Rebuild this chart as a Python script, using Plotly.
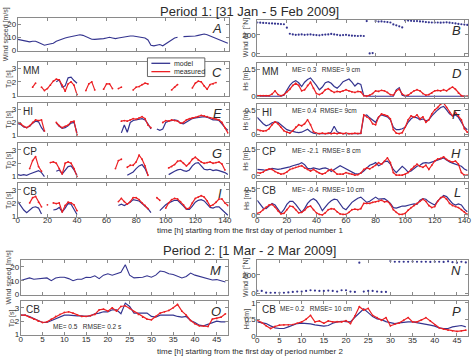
import plotly.graph_objects as go

W, H = 474, 361
N = None

# ---------------- DATA ----------------
t1 = list(range(0, 143, 2))   # period 1, hours
t2 = list(range(0, 48))       # period 2, hours

wind_speed_p1 = [8.4, 8.0, 7.5, 7.0, 6.5, 7.0, 7.0, 6.0, 5.0, 4.0, 4.5, 5.0,
                 5.5, 7.0, 8.0, 9.0, 9.5, 10.0, 10.5, 11.0, 11.5, 12.0, 11.5, 10.5,
                 9.5, 8.5, 8.4, 8.5, 9.0, 9.0, 9.5, 10.0, 9.5, 9.0, 9.5, 10.0,
                 10.0, 10.5, 11.0, 11.0, 10.5, 10.5, 10.0, 9.5, 8.0, 4.0, 3.5, 4.0,
                 4.5, 3.5, 5.0, 6.5, 8.0, 9.5, 10.0, N, 10.5, 10.5, 11.0, 11.0,
                 11.0, 11.5, 12.0, 12.5, 12.0, 11.0, 10.0, 9.0, 8.0, 7.5, 6.5, 5.5]

wind_dir_p1 = [330, 328, 326, 325, 322, 320, 318, 316, 314, 312, 276, 212,
               205, 200, 202, 205, 200, 203, 205, 200, 198, 195, 200, 203,
               205, 210, 205, 200, 195, 198, 200, 195, 192, 190, 188, 190,
               188, 345, 5, 8, 345, 340, 342, 338, 335, 330, 310, 300,
               290, 278, 352, 350, 348, 345, 345, 342, 340, 335, 332, 330,
               330, 330, 328, 330, 332, 328, 325, 320, 315, 312, 308, 305]

tp_mm_model = [N]*13 + [2.0, 2.15, 1.6, 1.7, 2.3, 2.35, 2.1, 1.9] + [N]*51
tp_mm_meas = [N, N, N, N, N, 1.6, 1.9, N, 1.6, 1.35, 1.5, 1.75,
              2.05, 2.2, 2.15, 1.75, 1.3, 1.85, 2.0, 1.75, 1.05, N, N, 1.35,
              1.85, 2.0, 1.4, N, N, 1.45, 1.85, 1.85, 1.5, N, 1.5, 1.6,
              N, N, N, 1.4, 1.6, 1.65, 1.8, 1.9, 1.85, N, N, N,
              N, N, N, N, 1.4, 1.6, 1.8, N, N, N, N, 1.55,
              1.9, 2.05, 2.0, 1.7, 1.45, 1.8, 1.85, 1.95, N, N, N, N]

hs_mm_model = [0.0, 0.0, 0.0, 0.0, 0.0, 0.0, 0.0, 0.0, 0.0, 0.02, 0.12, 0.2,
               0.26, 0.29, 0.25, 0.18, 0.26, 0.31, 0.34, 0.28, 0.2, 0.12, 0.17, 0.25,
               0.27, 0.24, 0.18, 0.15, 0.2, 0.27, 0.3, 0.32, 0.26, 0.19, 0.24, 0.22,
               0.01, 0.0, 0.0, 0.0, 0.0, 0.0, 0.0, 0.0, 0.0, 0.0, 0.0, 0.12,
               0.16, 0.02, 0.0, 0.0, 0.0, 0.0, 0.0, 0.0, 0.0, 0.0, 0.0, 0.0,
               0.0, 0.0, 0.0, 0.0, 0.0, 0.0, 0.0, 0.0, 0.0, 0.0, 0.0, 0.0]
hs_mm_meas = [0.01, 0.01, 0.01, 0.01, 0.01, 0.04, 0.1, 0.03, 0.01, 0.03, 0.08, 0.13,
              0.2, 0.24, 0.2, 0.1, 0.12, 0.2, 0.26, 0.15, 0.05, 0.03, 0.06, 0.12,
              0.14, 0.1, 0.07, 0.09, 0.08, 0.1, 0.12, 0.1, 0.08, 0.07, 0.09, 0.08,
              0.01, 0.0, 0.02, 0.05, 0.1, 0.09, 0.11, 0.1, 0.07, 0.03, 0.02, 0.1,
              0.13, 0.04, 0.01, 0.02, 0.06, 0.1, 0.12, 0.1, 0.05, 0.02, 0.03, 0.06,
              0.1, 0.11, 0.1, 0.12, 0.1, 0.14, 0.17, 0.13, 0.06, 0.01, 0.0, 0.0]

tp_hi_model = [1.9, 1.85, 1.65, 1.6, 1.7, 1.95, 2.1, 2.05, 1.6, 1.3, N, N,
               N, 1.95, 1.7, 1.55, 1.6, 1.75, 1.95, 2.0, 1.2, N, N, N,
               N, N, N, N, N, N, N, N, N, N, N, 1.2,
               1.8, 1.25, 2.0, 2.15, 2.2, 2.25, 2.3, 2.2, 1.9, 1.5, N, 1.5,
               1.4, 1.5, 2.0, 2.1, 2.15, 2.2, 2.15, 1.95, 1.9, 2.05, 2.15, 2.3,
               2.35, 2.4, 2.45, 2.45, 2.4, 2.3, 2.2, 2.2, 2.15, 1.9, 1.6, 1.4]
tp_hi_meas = [2.0, 1.9, 1.7, 1.6, 1.75, 2.0, 2.2, 2.15, 2.2, 1.35, N, N,
              N, 2.0, 1.75, 1.6, 1.7, 1.8, 2.05, 2.1, 1.05, N, N, N,
              N, N, N, N, N, N, N, N, N, N, N, 2.1,
              2.15, 2.1, 2.2, 2.3, 2.25, 2.35, 2.45, 2.3, 1.8, 1.6, N, N,
              N, 2.0, 2.15, 2.1, 2.2, 2.15, 2.1, 1.95, 2.0, 2.2, 2.3, 2.35,
              2.4, 2.45, 2.55, 2.5, 2.45, 2.35, 2.3, 2.25, 2.2, 2.0, 1.6, 1.2]

hs_hi_model = [0.35, 0.28, 0.22, 0.18, 0.2, 0.24, 0.26, 0.25, 0.2, 0.14, 0.1, 0.08,
               0.06, 0.05, 0.04, 0.05, 0.08, 0.11, 0.06, 0.03, 0.02, 0.02, 0.02, 0.02,
               0.02, 0.05, 0.17, 0.06, 0.03, 0.02, 0.02, 0.02, 0.02, 0.02, 0.02, 0.02,
               0.38, 0.4, 0.34, 0.3, 0.25, 0.36, 0.4, 0.38, 0.36, 0.3, 0.15, 0.1,
               0.1, 0.12, 0.15, 0.25, 0.32, 0.36, 0.34, 0.3, 0.32, 0.28, 0.3, 0.38,
               0.45, 0.5, 0.55, 0.57, 0.5, 0.42, 0.38, 0.4, 0.35, 0.25, 0.15, 0.1]
hs_hi_meas = [0.1, 0.08, 0.07, 0.08, 0.12, 0.2, 0.26, 0.22, 0.15, 0.08, 0.05, 0.03,
              0.08, 0.15, 0.2, 0.18, 0.22, 0.3, 0.2, 0.06, 0.03, 0.02, 0.03, 0.02,
              0.03, 0.02, 0.03, 0.02, 0.03, 0.02, 0.03, 0.02, 0.02, 0.03, 0.02, 0.03,
              0.4, 0.36, 0.32, 0.22, 0.2, 0.35, 0.42, 0.4, 0.38, 0.32, 0.1, 0.03,
              0.02, 0.04, 0.15, 0.3, 0.38, 0.35, 0.4, 0.32, 0.36, 0.25, 0.3, 0.42,
              0.5, 0.55, 0.62, 0.64, 0.55, 0.45, 0.38, 0.45, 0.38, 0.3, 0.12, 0.05]

tp_cp_model = [1.15, 1.1, 1.15, 1.1, 1.2, 1.3, 1.4, 1.45, 1.3, 1.0, N, N,
               N, 1.4, 1.5, 1.2, 1.5, 1.75, 1.8, 1.5, 1.1, N, N, N,
               N, N, N, N, N, N, N, N, N, N, N, N,
               N, 1.1, 1.2, 1.35, 1.6, 1.8, 1.9, 1.6, 1.1, N, N, N,
               N, N, N, 1.15, 1.3, 1.4, 1.5, 1.55, 1.45, 1.4, 1.5, 1.8,
               2.0, 2.05, 1.8, 1.55, 1.5, 1.55, 1.45, 1.5, 1.45, 1.4, 1.3, 1.15]
tp_cp_meas = [N, N, N, N, 1.6, 2.2, 2.5, 1.75, 1.4, N, N, 2.05,
              2.1, 2.0, 1.6, 1.2, 2.0, 2.1, 2.0, 1.6, 1.0, N, N, N,
              N, N, N, N, N, N, N, N, N, 1.6, 2.2, 2.3,
              N, 1.7, 1.85, 1.85, 2.1, 2.6, 2.3, 1.8, 1.1, N, N, N,
              N, N, N, 1.65, 1.75, 1.9, 2.15, 2.2, 2.0, 1.8, 2.0, 2.3,
              2.45, 2.25, 2.1, 2.0, 2.05, 2.1, 2.0, 2.05, 2.1, 1.95, 1.5, N]

hs_cp_model = [0.12, 0.12, 0.11, 0.1, 0.12, 0.14, 0.13, 0.12, 0.13, 0.14, 0.15, 0.17,
               0.19, 0.2, 0.22, 0.25, 0.21, 0.14, 0.13, 0.15, 0.14, 0.12, 0.14, 0.15,
               0.13, 0.08, 0.12, 0.16, 0.19, 0.16, 0.13, 0.1, 0.07, 0.04, 0.03, 0.05,
               0.09, 0.15, 0.2, 0.22, 0.25, 0.19, 0.22, 0.27, 0.28, 0.22, 0.12, 0.06,
               0.12, 0.18, 0.13, 0.07, 0.09, 0.14, 0.18, 0.2, 0.24, 0.25, 0.24, 0.26,
               0.28, 0.29, 0.31, 0.34, 0.3, 0.26, 0.24, 0.22, 0.2, 0.18, 0.13, 0.1]
hs_cp_meas = [0.06, 0.05, 0.07, 0.11, 0.13, 0.12, 0.08, 0.05, 0.03, 0.04, 0.07, 0.12,
              0.14, 0.16, 0.18, 0.19, 0.15, 0.12, 0.09, 0.12, 0.08, 0.05, 0.03, 0.05,
              0.1, 0.12, 0.08, 0.03, 0.03, 0.03, 0.06, 0.04, 0.03, 0.01, 0.02, 0.05,
              0.12, 0.15, 0.13, 0.16, 0.2, 0.25, 0.22, 0.28, 0.34, 0.25, 0.06, 0.01,
              0.01, 0.01, 0.03, 0.06, 0.12, 0.18, 0.22, 0.18, 0.16, 0.2, 0.12, 0.2,
              0.28, 0.32, 0.33, 0.36, 0.31, 0.28, 0.26, 0.28, 0.22, 0.06, 0.01, 0.01]

tp_cb_model = [2.1, 1.8, 1.45, 1.25, 1.45, 1.65, 1.7, 1.6, 1.15, N, N, N,
               1.45, 1.5, 1.65, 1.3, 1.6, 1.95, 1.9, 1.55, 1.1, N, N, N,
               N, N, N, N, N, N, N, N, N, N, 1.8, 1.9,
               1.8, 1.9, 2.05, 2.25, 2.2, 2.15, 1.95, 1.75, 1.55, 1.25, N, N,
               1.4, 1.65, 1.85, 2.0, 2.1, 2.2, 2.2, 2.0, 1.75, 1.5, 1.5, 1.75,
               2.05, 2.2, 2.25, 2.15, 1.9, 1.65, 1.6, 1.7, 1.7, 1.5, 1.3, 1.05]
tp_cb_meas = [N, N, N, N, 2.0, 2.4, 2.5, 2.05, 1.7, N, 1.85, N,
              2.0, 1.95, 2.0, 1.3, 1.8, 2.05, 2.0, 1.85, 1.4, N, N, N,
              N, N, N, N, N, N, N, N, N, N, 2.1, 2.35,
              2.1, 1.9, 2.1, 2.4, 2.4, 2.25, 2.0, 1.8, 1.55, N, N, 2.4,
              2.2, N, 1.6, 2.0, 2.25, 2.35, 2.3, 2.1, 1.85, 1.55, 1.6, 2.0,
              2.35, 2.45, 2.55, 2.45, 2.15, 1.75, 1.85, 2.05, 2.3, 2.3, 2.0, 1.8]

hs_cb_model = [0.28, 0.21, 0.13, 0.12, 0.18, 0.22, 0.19, 0.1, 0.03, 0.1, 0.2, 0.26,
               0.26, 0.2, 0.12, 0.05, 0.12, 0.22, 0.28, 0.31, 0.27, 0.19, 0.08, 0.16,
               0.22, 0.27, 0.3, 0.29, 0.2, 0.13, 0.1, 0.18, 0.24, 0.28, 0.32, 0.34,
               0.28, 0.24, 0.26, 0.3, 0.34, 0.3, 0.31, 0.31, 0.27, 0.22, 0.14, 0.13,
               0.15, 0.17, 0.17, 0.19, 0.2, 0.21, 0.2, 0.28, 0.31, 0.3, 0.25, 0.22,
               0.19, 0.27, 0.33, 0.37, 0.35, 0.28, 0.22, 0.19, 0.21, 0.19, 0.11, 0.06]
hs_cb_meas = [0.03, 0.05, 0.1, 0.15, 0.19, 0.2, 0.15, 0.08, 0.02, 0.03, 0.1, 0.17,
              0.16, 0.1, 0.04, 0.05, 0.09, 0.15, 0.17, 0.1, 0.04, 0.01, 0.0, 0.04,
              0.1, 0.12, 0.11, 0.06, 0.02, 0.01, 0.01, 0.05, 0.1, 0.11, 0.1, 0.12,
              0.22, 0.22, 0.22, 0.24, 0.25, 0.26, 0.28, 0.25, 0.26, 0.2, 0.1, 0.05,
              0.01, 0.01, 0.03, 0.09, 0.14, 0.18, 0.22, 0.26, 0.3, 0.26, 0.18, 0.14,
              0.16, 0.26, 0.33, 0.35, 0.3, 0.22, 0.18, 0.16, 0.14, 0.1, 0.06, 0.01]

wind_speed_p2 = [10.1, 11, 12, 11, 11.5, 12, 12, 10, 12, 12.5, 12.5, 11.5,
                 10, 11, 11, 12.5, 12.3, 13.5, 11.5, 14, 15, 14, 15, 16,
                 21.5, 14, 12, 12, 12.5, 13.5, 12.5, 14, 17, 16.5, 15, 14.5,
                 13.5, 12, 13, 15.5, 14, 13, 12.5, 11, 10.5, 10.8, 10, 9]
wind_dir_p2 = [25, 25, 6, 5, 5, 5, 5, 8, 14, 17, 17, 24,
               32, 28, 25, 25, 28, 25, 17, 32, 32, 17, 14, 330,
               17, 25, 25, 17, 14, 14, 347, 340, 340, 340, 340, 343,
               340, 340, 340, 338, 340, 340, 338, 345, 336, 330, 340, 333]
tp_cb2_model = [2.45, 2.45, 2.35, 2.2, 2.05, 1.9, 1.9, 2.05, 2.2, 2.3, 2.45, 2.45,
                2.4, 2.4, 2.4, 2.35, 2.4, 2.55, 2.6, 2.7, 2.7, 2.85, 2.85, 2.55,
                3.35, 3.1, 2.6, 2.6, 2.65, 2.6, 2.35, 2.3, 2.45, 2.45, 2.45, 2.45,
                2.35, 2.3, 2.35, 2.05, 1.9, 1.7, 1.65, 1.75, 1.9, 2.0, 1.95, 1.95]
tp_cb2_meas = [2.45, 2.45, 2.3, 2.15, 2.0, 1.9, 1.95, 2.15, 2.35, 2.5, 2.65, 2.7,
               2.6, 2.45, 2.35, 2.35, 2.4, 2.5, 2.85, 2.9, 2.75, 3.0, 2.75, 3.1,
               3.15, 2.95, 2.7, 2.5, 2.3, 2.15, 2.1, 2.35, 2.6, 2.7, 2.8, 3.0,
               3.25, 2.75, 2.45, 2.05, 1.8, 1.65, 1.65, 1.6, 2.15, 2.2, 2.3, 2.55]
hs_cb2_model = [0.42, 0.4, 0.37, 0.3, 0.24, 0.22, 0.22, 0.27, 0.33, 0.37, 0.38, 0.38,
                0.36, 0.33, 0.3, 0.29, 0.31, 0.38, 0.42, 0.44, 0.43, 0.42, 0.56, 0.7,
                0.82, 0.7, 0.58, 0.51, 0.49, 0.43, 0.39, 0.37, 0.39, 0.41, 0.42, 0.42,
                0.4, 0.38, 0.36, 0.32, 0.29, 0.24, 0.22, 0.22, 0.27, 0.29, 0.31, 0.27]
hs_cb2_meas = [0.47, 0.4, 0.3, 0.22, 0.28, 0.32, 0.33, 0.33, 0.34, 0.38, 0.42, 0.5,
               0.62, 0.42, 0.45, 0.38, 0.45, 0.42, 0.43, 0.42, 0.46, 0.37, 0.6, 0.88,
               0.78, 0.83, 0.62, 0.55, 0.47, 0.55, 0.3, 0.35, 0.39, 0.47, 0.55, 0.42,
               0.42, 0.48, 0.55, 0.45, 0.33, 0.24, 0.2, 0.17, 0.15, 0.13, 0.15, 0.17]

legend_names = ["model", "measured"]

BLUE = "#34348f"
RED = "#ec2024"
FRAME = "#8a8a8a"
TXT = "#2b2b2b"
FONT = "Liberation Sans, Arial, sans-serif"

# panel layout: (letter, station, x0,x1 px, top,bottom px, period, kind, ME text)
panels = [
    ("A", "",   16, 229, 15, 49, 1, "ws", ""),
    ("B", "",  258, 471, 17, 54, 1, "wd", ""),
    ("C", "MM", 16, 229, 60, 95, 1, "tp", ""),
    ("D", "MM", 258, 471, 61, 97, 1, "hs", "ME= 0.3   RMSE= 9 cm"),
    ("E", "HI", 16, 229, 102, 136, 1, "tp", ""),
    ("F", "HI", 258, 471, 103, 136, 1, "hs", "ME= 0.4  RMSE= 9cm"),
    ("G", "CP", 16, 229, 143, 178, 1, "tp", ""),
    ("H", "CP", 258, 471, 143, 178, 1, "hs", "ME= -2.1  RMSE= 8 cm"),
    ("I", "CB", 16, 229, 184, 218, 1, "tp", ""),
    ("L", "CB", 258, 471, 183, 218, 1, "hs", "ME= -0.4  RMSE= 10 cm"),
    ("M", "",   19, 228, 262, 298, 2, "ws", ""),
    ("N", "",  258, 471, 262, 298, 2, "wd", ""),
    ("O", "CB", 19, 228, 304, 339, 2, "tp", ""),
    ("P", "CB", 258, 471, 304, 340, 2, "hs2", ""),
]

series = {
    "A": (wind_speed_p1, None), "B": (wind_dir_p1, None),
    "C": (tp_mm_model, tp_mm_meas), "D": (hs_mm_model, hs_mm_meas),
    "E": (tp_hi_model, tp_hi_meas), "F": (hs_hi_model, hs_hi_meas),
    "G": (tp_cp_model, tp_cp_meas), "H": (hs_cp_model, hs_cp_meas),
    "I": (tp_cb_model, tp_cb_meas), "L": (hs_cb_model, hs_cb_meas),
    "M": (wind_speed_p2, None), "N": (wind_dir_p2, None),
    "O": (tp_cb2_model, tp_cb2_meas), "P": (hs_cb2_model, hs_cb2_meas),
}

kinds = {
    "ws": dict(range=[-0.5, 25], tickvals=[0, 10, 20], title="Wind speed [m/s]"),
    "wd": dict(range=[-22, 360], tickvals=[0, 200], title="Wind dir [°N]"),
    "tp": dict(range=[0.93, 3.5], tickvals=[1, 2, 3], title="Tp [s]"),
    "hs": dict(range=[-0.035, 0.62], tickvals=[0, 0.5], title="Hs [m]"),
    "hs2": dict(range=[-0.02, 1.05], tickvals=[0, 0.5, 1], title="Hs [m]"),
}

fig = go.Figure()
layout = dict()
ann = []
shapes = []

for i, (letter, station, x0, x1, top, bot, period, kind, metxt) in enumerate(panels):
    n = i + 1
    xs = t1 if period == 1 else t2
    xa = "x" if n == 1 else f"x{n}"
    ya = "y" if n == 1 else f"y{n}"
    model, meas = series[letter]
    if kind == "wd":
        fig.add_trace(go.Scatter(x=xs, y=model, mode="markers", xaxis=xa, yaxis=ya,
                                 marker=dict(color=BLUE, size=2.2), showlegend=False))
    elif kind == "ws":
        fig.add_trace(go.Scatter(x=xs, y=model, mode="lines", xaxis=xa, yaxis=ya,
                                 line=dict(color=BLUE, width=1.1), showlegend=False))
    else:
        fig.add_trace(go.Scatter(x=xs, y=model, mode="lines", xaxis=xa, yaxis=ya,
                                 name=legend_names[0], line=dict(color=BLUE, width=1.2),
                                 showlegend=False))
        fig.add_trace(go.Scatter(x=xs, y=meas, mode="lines+markers", xaxis=xa, yaxis=ya,
                                 name=legend_names[1], line=dict(color=RED, width=1.2),
                                 marker=dict(color=RED, size=1.8), showlegend=False))
    bottom = letter in ("I", "L", "O", "P")
    kd = kinds[kind]
    xcommon = dict(domain=[x0 / W, x1 / W], anchor=ya,
                   showline=True, linecolor=FRAME, linewidth=1, mirror="ticks",
                   ticks="inside", ticklen=3, tickcolor=FRAME, showgrid=False, zeroline=False,
                   showticklabels=bottom, ticklabelstandoff=-4,
                   tickfont=dict(size=8, color=TXT, family=FONT))
    if period == 1:
        xcommon.update(range=[0, 142.5], tickvals=[0, 20, 40, 60, 80, 100, 120, 140])
    else:
        xcommon.update(range=[0, 47.5], tickvals=[0, 5, 10, 15, 20, 25, 30, 35, 40, 45])
    ycommon = dict(domain=[1 - bot / H, 1 - top / H], anchor=xa, range=kd["range"],
                   tickvals=kd["tickvals"], showline=True, linecolor=FRAME, linewidth=1,
                   mirror="ticks", ticks="inside", ticklen=3, tickcolor=FRAME,
                   showgrid=False, zeroline=False, ticklabelstandoff=-1,
                   tickfont=dict(size=8, color=TXT, family=FONT))
    layout["xaxis" if n == 1 else f"xaxis{n}"] = xcommon
    layout["yaxis" if n == 1 else f"yaxis{n}"] = ycommon

    ann.append(dict(text=f"<i>{letter}</i>", xref="paper", yref="paper",
                    x=(x1 - 5) / W, y=1 - (top + 1) / H, xanchor="right", yanchor="top",
                    showarrow=False, font=dict(size=13, color=TXT, family=FONT)))
    if station:
        ann.append(dict(text=station, xref="paper", yref="paper",
                        x=(x0 + 3) / W, y=1 - (top + 1) / H, xanchor="left", yanchor="top",
                        showarrow=False, font=dict(size=10, color=TXT, family=FONT)))
    if metxt:
        ann.append(dict(text=metxt, xref="paper", yref="paper",
                        x=(x0 + 33) / W, y=1 - (top + 7) / H, xanchor="left", yanchor="middle",
                        showarrow=False, font=dict(size=6.5, color=TXT, family=FONT)))
    if kind in ("ws", "wd"):
        ytx = x0 - 12
    elif kind == "tp":
        ytx = x0 - 9
    else:
        ytx = x0 - 11
    ann.append(dict(text=kd["title"], xref="paper", yref="paper", textangle=-90,
                    x=ytx / W, y=1 - ((top + bot) / 2) / H, xanchor="center", yanchor="middle",
                    showarrow=False, font=dict(size=7, color="#444", family=FONT)))

ann.append(dict(text="ME= 0.5   RMSE= 0.2 s", xref="paper", yref="paper",
                x=50 / W, y=1 - 330 / H, xanchor="left", yanchor="middle", showarrow=False,
                font=dict(size=6.5, color=TXT, family=FONT)))
ann.append(dict(text="ME= 0.2   RMSE= 10 cm", xref="paper", yref="paper",
                x=279 / W, y=1 - 312 / H, xanchor="left", yanchor="middle", showarrow=False,
                font=dict(size=6.5, color=TXT, family=FONT)))

for txt, yy in (("Period 1: [31 Jan - 5 Feb 2009]", 9), ("Period 2: [1 Mar - 2 Mar 2009]", 252)):
    ann.append(dict(text=txt, xref="paper", yref="paper", x=250 / W, y=1 - yy / H,
                    xanchor="center", yanchor="middle", showarrow=False,
                    font=dict(size=13, color=TXT, family=FONT)))
for txt, yy in (("time [h] starting from the first day of period number 1", 232),
                ("time [h] starting from the first day of period number 2", 355)):
    ann.append(dict(text=txt, xref="paper", yref="paper", x=251 / W, y=1 - yy / H,
                    xanchor="center", yanchor="middle", showarrow=False,
                    font=dict(size=8, color=TXT, family=FONT)))

# legend box (drawn in panel C, like the original)
shapes.append(dict(type="rect", xref="paper", yref="paper", x0=147 / W, x1=205 / W,
                   y0=1 - 75 / H, y1=1 - 56 / H, line=dict(color="#666", width=1),
                   fillcolor="white", layer="above"))
for k, (nm, col) in enumerate(zip(legend_names, (BLUE, RED))):
    yy = 61.5 + k * 8.5
    shapes.append(dict(type="line", xref="paper", yref="paper", x0=151 / W, x1=170 / W,
                       y0=1 - yy / H, y1=1 - yy / H, line=dict(color=col, width=1.3),
                       layer="above"))
    ann.append(dict(text=nm, xref="paper", yref="paper", x=172 / W, y=1 - yy / H,
                    xanchor="left", yanchor="middle", showarrow=False,
                    font=dict(size=7, color=TXT, family=FONT)))

fig.update_layout(**layout)
fig.update_layout(
    width=W, height=H, margin=dict(l=0, r=0, t=0, b=0),
    paper_bgcolor="white", plot_bgcolor="white",
    font=dict(family=FONT, color=TXT),
    annotations=ann, shapes=shapes, showlegend=False,
)
fig.write_html("out.html", config={"displayModeBar": False},
               post_script="document.body.style.margin='0px';document.body.style.overflow='hidden';")
